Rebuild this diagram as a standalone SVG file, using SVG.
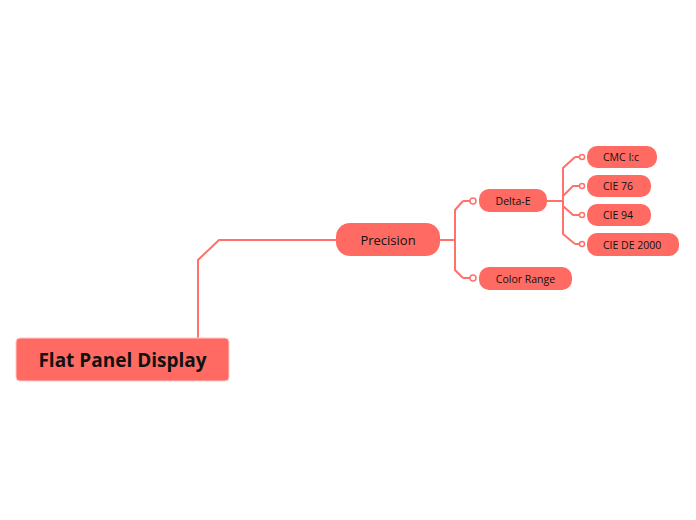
<svg xmlns="http://www.w3.org/2000/svg" width="696" height="520" viewBox="0 0 696 520">
<style>
.n{fill:#ff6b62}
.t{font-family:"Open Sans","Noto Sans",sans-serif;fill:#111;text-anchor:middle}
.s{font-family:"Open Sans","Noto Sans",sans-serif;fill:#111;text-anchor:start}
.c{fill:none;stroke:#ff716a;stroke-width:2}
.d{fill:#fff;stroke:#ff716a;stroke-width:1.5}
</style>
<rect width="696" height="520" fill="#fff"/>
<g id="connectors">
<path class="c" d="M198 338V260L219 240H336"/>
<path class="c" d="M440 240H455M463 201L455 210V270L463 278"/>
<path class="c" d="M547 201H563M575 157L563 168V234L575 244M563 196L573 186H582M563 206L573 215H582M575 157H582M575 244H582"/>
<path class="c" d="M463 201H470M463 278H470"/>
<circle class="d" cx="473" cy="201" r="3"/>
<circle class="d" cx="473" cy="278" r="3"/>
<circle class="d" cx="582" cy="157" r="2.5"/>
<circle class="d" cx="582" cy="186" r="2.5"/>
<circle class="d" cx="582" cy="215" r="2.5"/>
<circle class="d" cx="582" cy="244" r="2.5"/>
</g>
<g id="root"><rect class="n" x="16" y="338" width="213" height="43" rx="4" stroke="#ffc9c5"/><text class="t" x="122.5" y="367" font-size="19" font-weight="bold">Flat Panel Display</text></g>
<g id="precision"><rect class="n" x="336" y="223" width="104" height="33" rx="14"/><text class="t" x="388" y="245" font-size="13">Precision</text></g>
<g id="deltae"><rect class="n" x="479" y="189" width="68" height="23" rx="10"/><text class="t" x="513" y="205" font-size="10.5">Delta-E</text></g>
<g id="colorrange"><rect class="n" x="479" y="267" width="93" height="23" rx="10"/><text class="t" x="525.5" y="283" font-size="10.5">Color Range</text></g>
<g id="cmc"><rect class="n" x="587" y="146" width="70" height="22" rx="10"/><text class="s" x="603" y="161" font-size="10.5">CMC I:c</text></g>
<g id="cie76"><rect class="n" x="587" y="175" width="64" height="22" rx="10"/><text class="s" x="603" y="190" font-size="10.5">CIE 76</text></g>
<g id="cie94"><rect class="n" x="587" y="204" width="64" height="22" rx="10"/><text class="s" x="603" y="219" font-size="10.5">CIE 94</text></g>
<g id="ciede2000"><rect class="n" x="587" y="233" width="92" height="23" rx="10"/><text class="s" x="603" y="249" font-size="10.5">CIE DE 2000</text></g>
</svg>
